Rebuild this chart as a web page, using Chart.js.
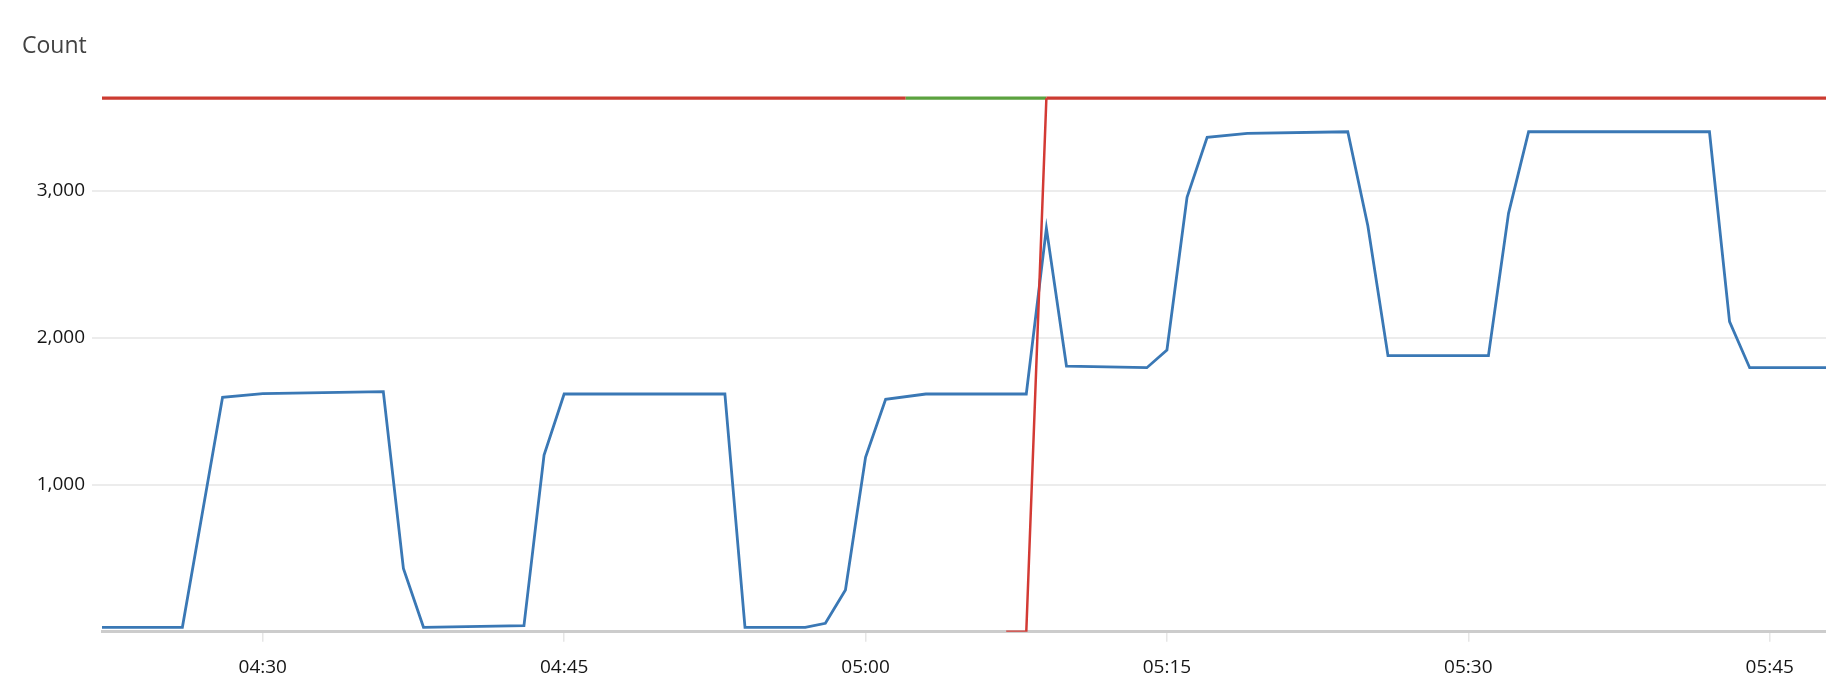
<!DOCTYPE html>
<html>
<head>
<meta charset="utf-8">
<script src="https://cdn.jsdelivr.net/npm/chart.js@4.4.1/dist/chart.umd.min.js"></script>
<style>
  html, body { margin: 0; padding: 0; background: #ffffff; }
  #wrap { position: relative; width: 1826px; height: 698px; }
</style>
</head>
<body>
<div id="wrap"><canvas id="c" width="1826" height="698"></canvas></div>
<script>
// ---- data (x = minutes since 00:00) ----
const metricMinutes = [262, 266, 268, 270, 276, 277, 278, 283, 284, 285, 293, 294, 297, 298, 299, 300, 301, 303, 308, 309, 310, 314, 315, 316, 317, 319, 324, 325, 326, 331, 332, 333, 342, 343, 344, 348];
const metricValues  = [30, 30, 1594, 1619, 1633, 431, 30, 41, 1202, 1617, 1617, 30, 30, 57, 284, 1186, 1581, 1617, 1617, 2744, 1807, 1796, 1916, 2955, 3363, 3390, 3401, 2760, 1878, 1878, 2846, 3401, 3401, 2109, 1796, 1796];

const alarmMinutes = [307, 308, 309];
const alarmValues  = [0, 0, 3630];

const thresholdMinutes = [262, 302, 309, 348];
const thresholdValues  = [3630, 3630, 3630, 3630];
const thresholdStates  = ['ALARM', 'OK', 'ALARM'];

const tickMinutes = [270, 285, 300, 315, 330, 345];
const tickLabels  = ['04:30', '04:45', '05:00', '05:15', '05:30', '05:45'];
const yTickValues = [1000, 2000, 3000];

const FONT = "'Open Sans', 'Noto Sans', sans-serif";
const BLUE = '#3a78b5';
const RED = '#cc3b31';
const GREEN = '#5ba23f';

const toPts = (xs, ys) => xs.map((x, i) => ({ x: x, y: ys[i] }));

new Chart(document.getElementById('c'), {
  type: 'line',
  data: {
    datasets: [
      {
        label: 'Alarm metric',
        data: toPts(alarmMinutes, alarmValues),
        borderColor: '#d33a34',
        borderWidth: 2.5,
        pointRadius: 0,
        tension: 0,
        order: 0
      },
      {
        label: 'Count',
        data: toPts(metricMinutes, metricValues),
        borderColor: BLUE,
        borderWidth: 2.8,
        pointRadius: 0,
        tension: 0,
        order: 1
      },
      {
        label: 'Threshold',
        data: toPts(thresholdMinutes, thresholdValues),
        borderColor: RED,
        borderWidth: 3.2,
        pointRadius: 0,
        tension: 0,
        order: 2,
        segment: {
          borderColor: ctx => thresholdStates[ctx.p0DataIndex] === 'OK' ? GREEN : RED
        }
      }
    ]
  },
  options: {
    responsive: false,
    animation: false,
    layout: { padding: { left: 22, right: 0, top: 0, bottom: 0 } },
    plugins: {
      legend: { display: false },
      tooltip: { enabled: false },
      title: {
        display: true,
        text: 'Count',
        align: 'start',
        color: '#424242',
        font: { family: FONT, size: 23, weight: '500' },
        padding: { top: 33, bottom: 19.85 }
      }
    },
    scales: {
      x: {
        type: 'linear',
        min: 262,
        max: 347.8,
        afterBuildTicks: axis => { axis.ticks = tickMinutes.map(v => ({ value: v })); },
        afterFit: axis => { axis.height = 66.3; },
        ticks: {
          autoSkip: false,
          maxRotation: 0,
          padding: 14,
          color: '#161616',
          font: { family: FONT, size: 19 },
          callback: (v) => tickLabels[tickMinutes.indexOf(v)]
        },
        grid: {
          drawOnChartArea: false,
          drawTicks: true,
          tickLength: 10,
          color: '#e6e6e6',
          lineWidth: 1.5
        },
        border: { display: true, color: '#cccccc', width: 3 }
      },
      y: {
        type: 'linear',
        min: 0,
        max: 3750,
        afterBuildTicks: axis => { axis.ticks = yTickValues.map(v => ({ value: v })); },
        afterFit: axis => { axis.width = 80; },
        ticks: {
          padding: 7,
          color: '#161616',
          font: { family: FONT, size: 19 },
          callback: v => v.toLocaleString('en-US')
        },
        grid: {
          color: '#ececec',
          lineWidth: 2,
          drawTicks: true,
          tickLength: 10
        },
        border: { display: false }
      }
    }
  }
});
</script>
</body>
</html>
